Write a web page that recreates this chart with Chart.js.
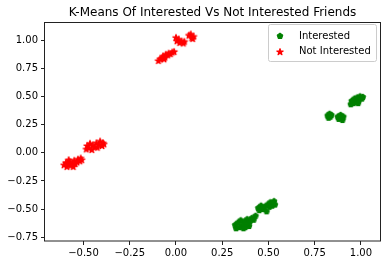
<!DOCTYPE html>
<html>
<head>
<meta charset="utf-8">
<script src="https://cdn.jsdelivr.net/npm/chart.js@4.4.0/dist/chart.umd.min.js"></script>
<style>
  html, body { margin: 0; padding: 0; background: #fff; }
  #wrap { width: 390px; height: 264px; }
</style>
</head>
<body>
<div id="wrap"><canvas id="chart" width="390" height="264"></canvas></div>
<script>
const chartTitle = "K-Means Of Interested Vs Not Interested Friends";
const seriesNames = ["Interested", "Not Interested"];
const xTicks = [-0.5, -0.25, 0, 0.25, 0.5, 0.75, 1.0];
const yTicks = [-0.75, -0.5, -0.25, 0, 0.25, 0.5, 0.75, 1.0];

// green pentagons
const interestedX = [
  0.32, 0.325, 0.335, 0.345, 0.35, 0.36, 0.365, 0.37, 0.38, 0.385, 0.395, 0.40, 0.41, 0.42, 0.43, 0.375,
  0.445, 0.45, 0.46, 0.47, 0.48, 0.49, 0.495, 0.505, 0.51, 0.52, 0.525, 0.535, 0.53,
  0.82, 0.825, 0.83, 0.835, 0.84,
  0.875, 0.88, 0.89, 0.895, 0.905, 0.90,
  0.945, 0.95, 0.96, 0.965, 0.975, 0.98, 0.99, 0.995, 1.005, 1.01, 0.985
];
const interestedY = [
  -0.64, -0.67, -0.62, -0.66, -0.60, -0.64, -0.67, -0.61, -0.63, -0.59, -0.65, -0.61, -0.58, -0.595, -0.56, -0.66,
  -0.49, -0.51, -0.47, -0.50, -0.48, -0.52, -0.46, -0.48, -0.44, -0.47, -0.45, -0.46, -0.43,
  0.33, 0.31, 0.345, 0.32, 0.335,
  0.32, 0.30, 0.335, 0.31, 0.32, 0.29,
  0.43, 0.46, 0.44, 0.48, 0.45, 0.49, 0.47, 0.50, 0.48, 0.495, 0.44
];

// red stars
const notInterestedX = [
  -0.605, -0.595, -0.59, -0.58, -0.575, -0.57, -0.56, -0.555, -0.55, -0.545, -0.535, -0.53, -0.52, -0.515, -0.51, -0.58,
  -0.485, -0.48, -0.47, -0.465, -0.455, -0.45, -0.44, -0.43, -0.425, -0.415, -0.41, -0.40, -0.395, -0.39,
  -0.095, -0.085, -0.075, -0.07, -0.06, -0.055, -0.045, -0.04, -0.03, -0.02, -0.01, -0.065,
  0.0, 0.005, 0.015, 0.02, 0.03, 0.04, 0.045,
  0.07, 0.08, 0.085, 0.095, 0.09
];
const notInterestedY = [
  -0.11, -0.09, -0.125, -0.10, -0.08, -0.115, -0.095, -0.125, -0.07, -0.10, -0.085, -0.06, -0.075, -0.05, -0.065, -0.065,
  0.03, 0.06, 0.04, 0.08, 0.025, 0.065, 0.05, 0.085, 0.045, 0.07, 0.10, 0.06, 0.085, 0.075,
  0.815, 0.83, 0.84, 0.855, 0.845, 0.87, 0.865, 0.88, 0.875, 0.89, 0.895, 0.83,
  1.02, 0.99, 1.005, 0.975, 0.985, 0.97, 0.985,
  1.04, 1.05, 1.02, 1.03, 1.01
];

const FONT = "'DejaVu Sans', 'Liberation Sans', sans-serif";

function toPoints(xs, ys) {
  return xs.map((x, i) => ({ x: x, y: ys[i] }));
}

// marker images (Chart.js has no filled star or pentagon)
function markerImage(color, kind) {
  const c = document.createElement("canvas");
  c.width = 10; c.height = 10;
  const g = c.getContext("2d");
  const r = 2.9;
  g.translate(5, 5);
  g.beginPath();
  if (kind === "star") {
    for (let k = 0; k < 10; k++) {
      const rr = k % 2 === 0 ? r + 0.5 : (r + 0.5) * 0.382;
      const a = -Math.PI / 2 + k * Math.PI / 5;
      g.lineTo(rr * Math.cos(a), rr * Math.sin(a));
    }
  } else {
    for (let k = 0; k < 5; k++) {
      const a = -Math.PI / 2 + k * 2 * Math.PI / 5;
      g.lineTo(r * Math.cos(a), r * Math.sin(a));
    }
  }
  g.closePath();
  g.fillStyle = color;
  g.strokeStyle = color;
  g.lineWidth = 1.1;
  g.lineJoin = "round";
  g.fill();
  g.stroke();
  return c;
}

function fmt(v) {
  return v.toFixed(2).replace("-", "\u2212");
}

const framePlugin = {
  id: "frame",
  afterDraw(chart) {
    const ctx = chart.ctx, a = chart.chartArea;
    ctx.save();
    ctx.strokeStyle = "#222";
    ctx.lineWidth = 1;
    ctx.strokeRect(Math.round(a.left) - 0.5, Math.round(a.top) + 0.5,
      Math.round(a.right - a.left) + 1, Math.round(a.bottom - a.top) - 0.5);

    // title centred over the axes
    ctx.fillStyle = "#000";
    ctx.font = "12px " + FONT;
    ctx.textAlign = "center";
    ctx.textBaseline = "middle";
    ctx.fillText(chartTitle, (a.left + a.right) / 2, 13);

    // legend in the upper right corner
    const w = 108, h = 37;
    const x = a.right - 4 - w, y = a.top + 2;
    ctx.fillStyle = "rgba(255,255,255,0.8)";
    ctx.strokeStyle = "#cccccc";
    ctx.beginPath();
    ctx.roundRect(x + 0.5, y + 0.5, w, h, 2);
    ctx.fill();
    ctx.stroke();
    ctx.font = "10px " + FONT;
    ctx.textAlign = "left";
    chart.data.datasets.forEach((ds, i) => {
      const cy = y + 12 + i * 15.5;
      ctx.drawImage(ds.pointStyle, x + 12 - 5, Math.round(cy) - 5);
      ctx.fillStyle = "#000";
      ctx.fillText(ds.label, x + 31, cy);
    });
    ctx.restore();
  }
};

const ctx = document.getElementById("chart").getContext("2d");
new Chart(ctx, {
  type: "scatter",
  data: {
    datasets: [
      {
        label: seriesNames[0],
        data: toPoints(interestedX, interestedY),
        pointStyle: markerImage("#008000", "pentagon"),
        backgroundColor: "#008000",
        borderColor: "#008000",
      },
      {
        label: seriesNames[1],
        data: toPoints(notInterestedX, notInterestedY),
        pointStyle: markerImage("#ff0000", "star"),
        backgroundColor: "#ff0000",
        borderColor: "#ff0000",
      },
    ],
  },
  options: {
    responsive: false,
    animation: false,
    devicePixelRatio: 1,
    layout: { padding: { top: 22, right: 10, left: 0, bottom: 0 } },
    plugins: {
      legend: { display: false },
      title: { display: false },
      tooltip: { enabled: false },
    },
    scales: {
      x: {
        type: "linear",
        min: -0.708,
        max: 1.103,
        afterBuildTicks: (s) => { s.ticks = xTicks.map((v) => ({ value: v })); },
        afterFit: (s) => { s.height = 23; },
        border: { display: false },
        grid: { drawOnChartArea: false, drawTicks: true, tickLength: 4, tickColor: "#222", tickWidth: 1 },
        ticks: { padding: 2, color: "#000", font: { family: FONT, size: 10 }, callback: (v) => fmt(v), maxRotation: 0 },
      },
      y: {
        type: "linear",
        min: -0.783,
        max: 1.16,
        afterBuildTicks: (s) => { s.ticks = yTicks.map((v) => ({ value: v })); },
        afterFit: (s) => { s.width = 45; },
        border: { display: false },
        grid: { drawOnChartArea: false, drawTicks: true, tickLength: 4, tickColor: "#222", tickWidth: 1 },
        ticks: { padding: 3, color: "#000", font: { family: FONT, size: 10 }, callback: (v) => fmt(v) },
      },
    },
  },
  plugins: [framePlugin],
});
</script>
</body>
</html>
